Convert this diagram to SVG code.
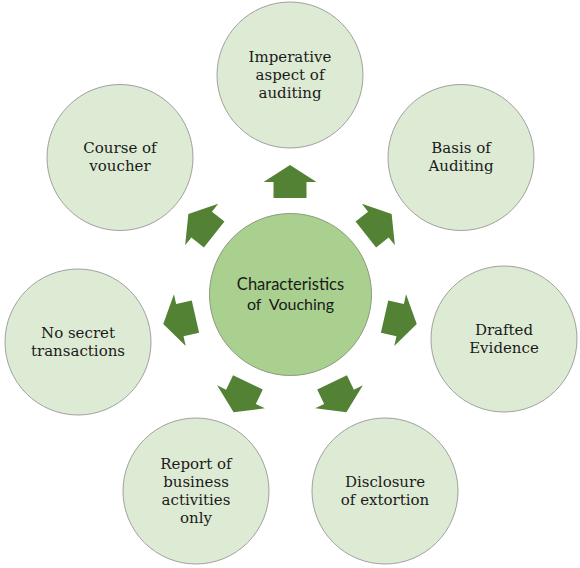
<svg xmlns="http://www.w3.org/2000/svg" width="580" height="568" viewBox="0 0 580 568">
<defs>
<style>
.outer{fill:#DEEBD4;stroke:#A0A0A0;stroke-width:1}
.center{fill:#A9D08E;stroke:#8A9A80;stroke-width:1}
.arrow{fill:#548235}
.t{font-family:"DejaVu Serif","Liberation Serif",serif;font-size:15px;fill:#1a1a1a;text-anchor:middle}
.ct{font-family:"Lato","DejaVu Sans",sans-serif;font-size:16px;fill:#1a1a1a;text-anchor:middle}
</style>
<path id="arr" d="M0,-130 L26.5,-113 L16.5,-113 L16.5,-97 L-16.5,-97 L-16.5,-113 L-26.5,-113 Z"/>
</defs>
<rect width="580" height="568" fill="#ffffff"/>
<g id="connectors" class="arrow" transform="translate(290,295)">
<use href="#arr"/>
<use href="#arr" transform="rotate(51.43)"/>
<use href="#arr" transform="rotate(102.86)"/>
<use href="#arr" transform="rotate(154.29)"/>
<use href="#arr" transform="rotate(205.71)"/>
<use href="#arr" transform="rotate(257.14)"/>
<use href="#arr" transform="rotate(308.57)"/>
</g>
<g id="center">
<circle class="center" cx="290.5" cy="294.5" r="81"/>
<text class="ct" x="290.5" y="290" style="font-size:16.5px">Characteristics</text>
<text class="ct" x="290.5" y="310" xml:space="preserve">of  Vouching</text>
</g>
<g id="n1">
<circle class="outer" cx="290" cy="75" r="73"/>
<text class="t" x="290" y="62">Imperative</text>
<text class="t" x="290" y="80">aspect of</text>
<text class="t" x="290" y="98">auditing</text>
</g>
<g id="n2">
<circle class="outer" cx="461" cy="157.5" r="73"/>
<text class="t" x="461" y="153">Basis of</text>
<text class="t" x="461" y="171">Auditing</text>
</g>
<g id="n3">
<circle class="outer" cx="504" cy="339" r="73"/>
<text class="t" x="504" y="335">Drafted</text>
<text class="t" x="504" y="353">Evidence</text>
</g>
<g id="n4">
<circle class="outer" cx="385" cy="491" r="73"/>
<text class="t" x="385" y="487">Disclosure</text>
<text class="t" x="385" y="505">of extortion</text>
</g>
<g id="n5">
<circle class="outer" cx="196" cy="491" r="73"/>
<text class="t" x="196" y="469">Report of</text>
<text class="t" x="196" y="487">business</text>
<text class="t" x="196" y="505">activities</text>
<text class="t" x="196" y="523">only</text>
</g>
<g id="n6">
<circle class="outer" cx="78" cy="342" r="73"/>
<text class="t" x="78" y="338">No secret</text>
<text class="t" x="78" y="356">transactions</text>
</g>
<g id="n7">
<circle class="outer" cx="120" cy="157.5" r="73"/>
<text class="t" x="120" y="153">Course of</text>
<text class="t" x="120" y="171">voucher</text>
</g>
</svg>
